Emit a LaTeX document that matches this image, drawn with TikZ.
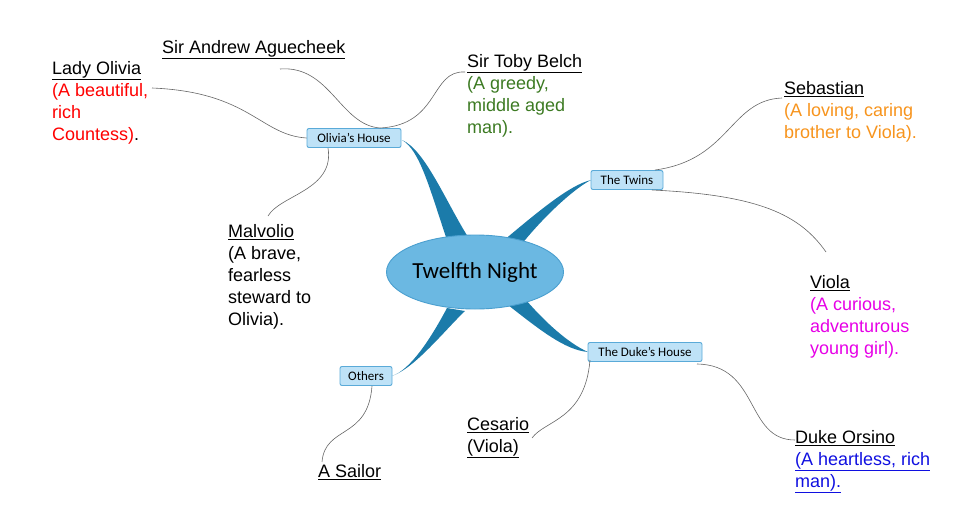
\documentclass[tikz,border=0pt]{standalone}
\usepackage{fontspec}
\setmainfont{Liberation Sans}
\newfontfamily\boxfont{Carlito}
\usetikzlibrary{shapes.geometric}
\definecolor{ellfill}{HTML}{6BB8E2}
\definecolor{ellline}{HTML}{4A9FCF}
\definecolor{branch}{HTML}{1B7BAA}
\definecolor{boxfill}{HTML}{BEE2F7}
\definecolor{boxline}{HTML}{5AAAD8}
\definecolor{tgreen}{HTML}{3C7A22}
\definecolor{torange}{HTML}{F7941D}
\definecolor{tmag}{HTML}{E600E6}
\definecolor{tblue}{HTML}{1010E0}
\tikzset{
  topic/.style={draw=boxline,fill=boxfill,rounded corners=2pt,line width=0.9pt,font=\boxfont\fontsize{13}{14}\selectfont,inner sep=0pt,minimum height=19pt},
  lbl/.style={anchor=north west,align=left,inner sep=0pt,font=\fontsize{18}{22}\selectfont},
  twig/.style={draw=gray!80!black,line width=0.6pt},
  br/.style={fill=branch}
}
\begin{document}
\begin{tikzpicture}[x=1pt,y=-1pt]
\useasboundingbox (0,0) rectangle (964,506);
% branches
\fill[br] (447,240) .. controls (430,190) and (420,150) .. (402,140) .. controls (425,150) and (445,200) .. (468,237) -- cycle;
\fill[br] (503,241) .. controls (540,210) and (570,185) .. (591,180) .. controls (575,188) and (545,215) .. (521,245) -- cycle;
\fill[br] (508,305) .. controls (540,330) and (565,350) .. (588,352) .. controls (568,343) and (545,322) .. (526,300) -- cycle;
\fill[br] (447,308) .. controls (430,340) and (410,370) .. (392,376) .. controls (415,368) and (445,330) .. (465,311) -- cycle;
\node[ellipse,draw=ellline,fill=ellfill,line width=0.9pt,minimum width=172pt,minimum height=74pt,inner sep=0pt,font=\boxfont\fontsize{23}{25}\selectfont] (tn) at (475,272) {Twelfth Night};
\node[topic,minimum width=94pt] (oh) at (354,138) {Olivia’s House};
\node[topic,minimum width=72pt] (tw) at (627,180) {The Twins};
\node[topic,minimum width=114pt] (dh) at (645,352) {The Duke’s House};
\node[topic,minimum width=52pt] (ot) at (366,376) {Others};
% labels
\node[lbl] (andrew) at (162,40) {\underline{Sir Andrew Aguecheek}};
\node[lbl] (olivia) at (52,61) {\underline{Lady Olivia}\\\textcolor{red}{(A beautiful,}\\\textcolor{red}{rich}\\\textcolor{red}{Countess)}.};
\node[lbl] (toby) at (467,54) {\underline{Sir Toby Belch}\\\textcolor{tgreen}{(A greedy,}\\\textcolor{tgreen}{middle aged}\\\textcolor{tgreen}{man).}};
\node[lbl] (seb) at (784,81) {\underline{Sebastian}\\\textcolor{torange}{(A loving, caring}\\\textcolor{torange}{brother to Viola).}};
\node[lbl] (malv) at (228,224) {\underline{Malvolio}\\(A brave,\\fearless\\steward to\\Olivia).};
\node[lbl] (viola) at (810,275) {\underline{Viola}\\\textcolor{tmag}{(A curious,}\\\textcolor{tmag}{adventurous}\\\textcolor{tmag}{young girl).}};
\node[lbl] (ces) at (467,417) {\underline{Cesario}\\\underline{(Viola)}};
\node[lbl] (sailor) at (318,464) {\underline{A Sailor}};
\node[lbl] (duke) at (795,430) {\underline{Duke Orsino}\\\textcolor{tblue}{\underline{(A heartless, rich}}\\\textcolor{tblue}{\underline{man).}}};
% twigs
\coordinate (c1) at (152,88);
\draw[twig] (oh.west) .. controls (260,135) and (250,92) .. (c1);
\coordinate (c2) at (280,69);
\draw[twig] (c2) .. controls (330,65) and (340,125) .. (380,128);
\coordinate (c3) at (465,72);
\draw[twig] (c3) .. controls (430,70) and (440,125) .. (380,128);
\coordinate (c4) at (268,216);
\draw[twig] (328,148) .. controls (335,190) and (280,195) .. (c4);
\coordinate (c5) at (782,98);
\draw[twig] (655,170) .. controls (730,160) and (730,100) .. (c5);
\coordinate (c6) at (826,252);
\draw[twig] (652,190) .. controls (760,195) and (800,215) .. (c6);
\coordinate (c7) at (532,438);
\draw[twig] (590,360) .. controls (585,420) and (545,420) .. (c7);
\coordinate (c8) at (795,440);
\draw[twig] (697,364) .. controls (760,365) and (745,440) .. (c8);
\coordinate (c9) at (322,462);
\draw[twig] (372,386) .. controls (368,440) and (325,425) .. (c9);
\end{tikzpicture}
\end{document}
